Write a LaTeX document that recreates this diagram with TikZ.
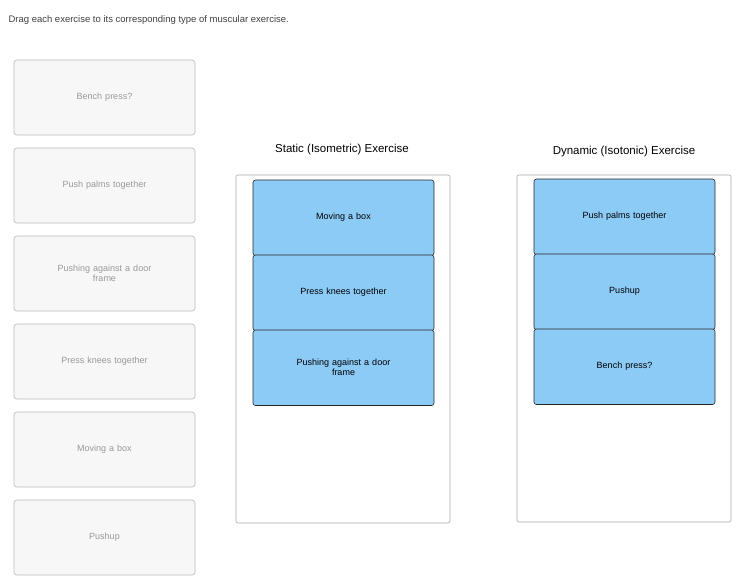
\documentclass[tikz,border=0pt]{standalone}
\usepackage{fontspec}
\setmainfont{Liberation Sans}
\begin{document}
\begin{tikzpicture}[x=1pt,y=-1pt,
  card/.style={draw=gray!55,fill=gray!6,rounded corners=3pt,line width=0.6pt,text=gray!80,font=\fontsize{9}{10}\selectfont,align=center,text width=120pt},
  blue/.style={draw=black!85,fill={rgb,255:red,141;green,203;blue,247},rounded corners=2.5pt,line width=0.6pt,font=\fontsize{9}{10}\selectfont,align=center,text width=120pt},
  box/.style={draw=gray!70,rounded corners=2pt,line width=0.6pt},
  ttl/.style={font=\fontsize{11.5}{13}\selectfont}]
\useasboundingbox (0,0) rectangle (755,586);
\node[anchor=west,font=\fontsize{9.5}{11}\selectfont,text=black!75] (hdr) at (5,20) {Drag each exercise to its corresponding type of muscular exercise.};
\foreach \n/\t/\y in {c1/Bench press?/60,c2/Push palms together/148,c3/{Pushing against a door\\frame}/236,c4/Press knees together/324,c5/Moving a box/412,c6/Pushup/500}{
  \draw[card] (14,\y) rectangle ++(181,75);
  \node[card,draw=none,fill=none] (\n) at (104.5,\y+37.5) {\t};
}
\node[ttl] (t1) at (342,150) {Static (Isometric) Exercise};
\node[ttl] (t2) at (624,152) {Dynamic (Isotonic) Exercise};
\draw[box] (236,175) rectangle (450,523);
\draw[box] (517,175) rectangle (731,522);
\foreach \n/\t/\y in {m1/Moving a box/180,m2/Press knees together/255,m3/{Pushing against a door\\frame}/330}{
  \draw[blue] (253,\y) rectangle ++(181,75.5);
  \node[blue,draw=none,fill=none] (\n) at (343.5,\y+37.5) {\t};
}
\foreach \n/\t/\y in {r1/Push palms together/179,r2/Pushup/254,r3/Bench press?/329}{
  \draw[blue] (534,\y) rectangle ++(181,75.5);
  \node[blue,draw=none,fill=none] (\n) at (624.5,\y+37.5) {\t};
}
\end{tikzpicture}
\end{document}
